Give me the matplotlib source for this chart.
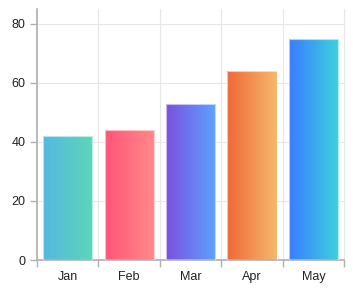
import matplotlib
matplotlib.use("Agg")
import matplotlib.pyplot as plt
import numpy as np
from matplotlib.colors import to_rgb

plt.rcParams["font.family"] = ["Liberation Sans", "DejaVu Sans"]

months = ["Jan", "Feb", "Mar", "Apr", "May"]
values = [42, 44, 53, 64, 75]
grad_start = ["#55b8e2", "#ff5577", "#7a50e0", "#f06838", "#3a7cff"]
grad_end = ["#5dd6b8", "#ff8a8a", "#5ea2ff", "#f5b86c", "#3ed2dc"]

fig = plt.figure(figsize=(3.53, 2.98), dpi=100)
ax = fig.add_axes([0.105, 0.1275, 0.8697, 0.842])

ax.set_xlim(-0.5, len(months) - 0.5)
ax.set_ylim(0, 85)

width = 0.8
bars = ax.bar(np.arange(len(months)), values, width=width, color="none",
              edgecolor=(1, 1, 1, 0.6), lw=0.8, zorder=3)
for i, (bar, c0, c1) in enumerate(zip(bars, grad_start, grad_end)):
    a, b = np.array(to_rgb(c0)), np.array(to_rgb(c1))
    t = np.linspace(0, 1, 256)[:, None]
    img = (a + (b - a) * t)[None, :, :]
    x0, x1 = i - width / 2, i + width / 2
    im = ax.imshow(img, extent=(x0, x1, 0, 85), aspect="auto", zorder=2,
                   interpolation="bilinear")
    im.set_clip_path(bar)

ax.set_xlim(-0.5, len(months) - 0.5)
ax.set_ylim(0, 85)
ax.set_yticks([0, 20, 40, 60, 80])
ax.set_xticks(np.arange(len(months) + 1) - 0.5)
ax.set_xticklabels([])
ax.set_xticks(np.arange(len(months)), minor=True)
ax.set_xticklabels(months, minor=True)
ax.tick_params(axis="x", which="minor", length=0, pad=8, labelsize=9,
               labelcolor="#222222")
ax.tick_params(axis="x", which="major", length=5, color="#b0b0b0", width=1)
ax.tick_params(axis="y", length=5, color="#b0b0b0", width=1, labelsize=9,
               labelcolor="#222222")

ax.grid(True, which="major", color="#e6e6e6", lw=0.8, zorder=0)
for line in ax.get_xgridlines():
    line.set_clip_on(False)
ax.set_axisbelow(True)
for s in ["top", "right"]:
    ax.spines[s].set_visible(False)
for s in ["left", "bottom"]:
    ax.spines[s].set_color("#b0b0b0")
    ax.spines[s].set_linewidth(1.2)

fig.savefig("out.png", dpi=100)
